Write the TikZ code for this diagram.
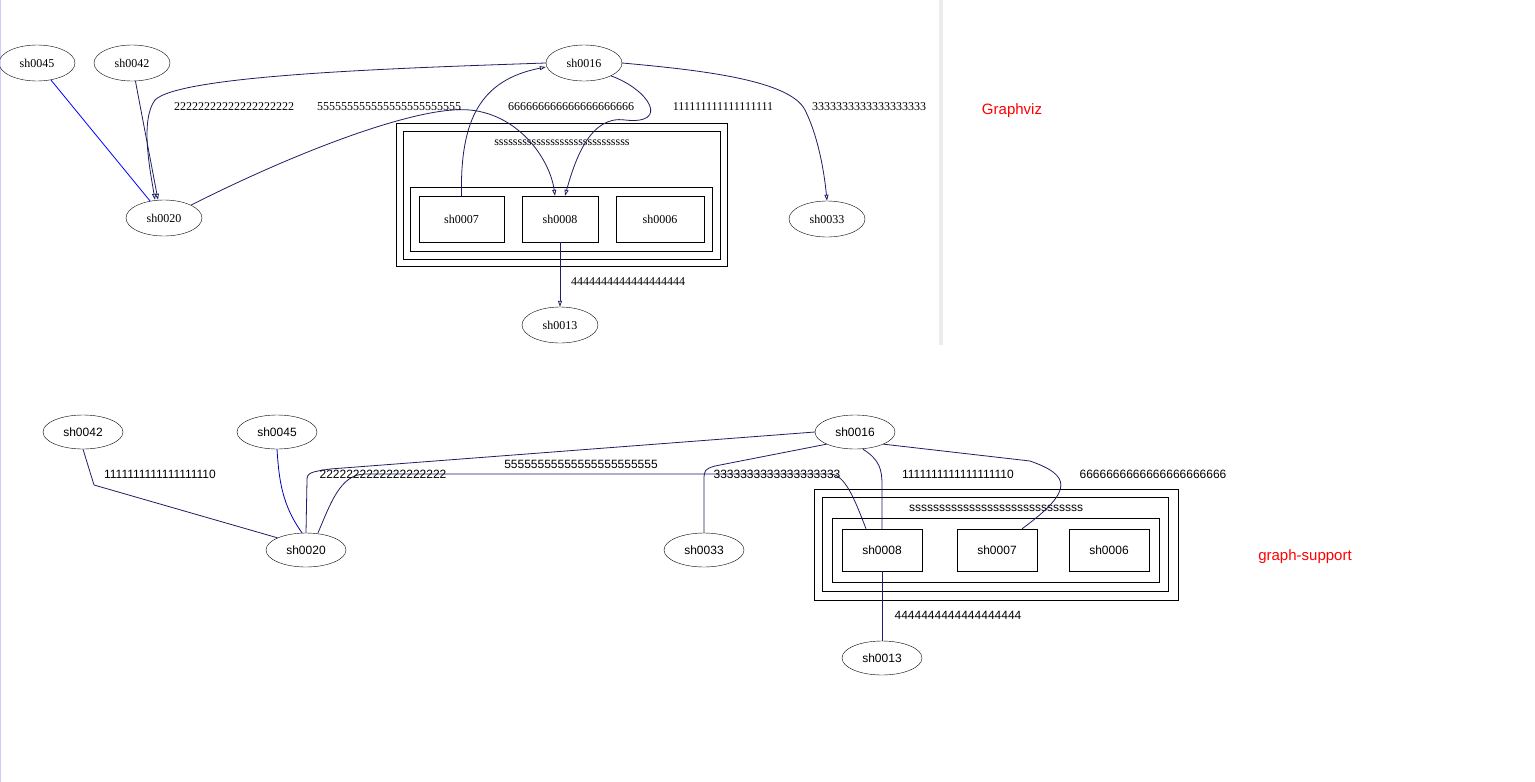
\documentclass[tikz,border=0pt]{standalone}
\usepackage{fontspec}
\setmainfont{Liberation Serif}
\newfontfamily\gsfont{Liberation Sans}
\usetikzlibrary{arrows.meta,shapes.geometric}
\begin{document}
\begin{tikzpicture}[x=1pt,y=-1pt,
 gvn/.style={draw,ellipse,minimum width=76pt,minimum height=36pt,inner sep=0,font=\fontsize{12}{12}\selectfont},
 gsn/.style={draw,ellipse,minimum width=80pt,minimum height=34pt,inner sep=0,font=\gsfont\fontsize{12}{12}\selectfont},
 bx/.style={draw,inner sep=0},
 ed/.style={draw={rgb,255:red,30;green,30;blue,100},line width=0.8pt},
 arr/.style={ed,-{Triangle[open,length=6pt,width=4pt]}},
 lb/.style={font=\fontsize{12}{12}\selectfont,inner sep=1pt},
 glb/.style={font=\gsfont\fontsize{12}{12}\selectfont,inner sep=1pt}]
\useasboundingbox (0,0) rectangle (1535,782);
\fill[white] (0,0) rectangle (1535,782);
\draw[blue!20,line width=1pt] (0.5,0) -- (0.5,782);
\fill[gray!15] (939,0) rectangle (943,345);
% ===== Graphviz =====
\node[text=red,font=\gsfont\fontsize{15}{15}\selectfont] (t1) at (1012,111) {Graphviz};
\node[gvn] (a45) at (37,63) {sh0045};
\node[gvn] (a42) at (132,63) {sh0042};
\node[gvn] (a16) at (584,63) {sh0016};
\node[gvn] (a20) at (164,218) {sh0020};
\node[gvn] (a33) at (827,219) {sh0033};
\node[gvn] (a13) at (560,325) {sh0013};
\node[bx,minimum width=331pt,minimum height=143pt] (ac1) at (561.5,194.5) {};
\node[bx,minimum width=317pt,minimum height=128pt] (ac2) at (561.5,195) {};
\node[bx,minimum width=302pt,minimum height=64pt] (ac3) at (561,219) {};
\node[lb] (als) at (562,143) {sssssssssssssssssssssssssssss};
\node[bx,minimum width=85pt,minimum height=46pt,font=\fontsize{12}{12}\selectfont] (a07) at (461.5,219) {sh0007};
\node[bx,minimum width=76pt,minimum height=46pt,font=\fontsize{12}{12}\selectfont] (a08) at (560,219) {sh0008};
\node[bx,minimum width=88pt,minimum height=46pt,font=\fontsize{12}{12}\selectfont] (a06) at (660,219) {sh0006};
\draw[blue,line width=0.8pt] (a45) -- (a20);
\draw[arr] (a42) -- ([xshift=-6pt]a20.north);
\draw[arr] (a16.west) .. controls (400,68) and (180,75) .. (155,100) .. controls (140,120) and (150,170) .. ([xshift=-9pt]a20.north);
\draw[arr] (a20.north east) .. controls (300,150) and (420,105) .. (470,110) .. controls (520,115) and (550,160) .. ([xshift=-5pt]a08.north);
\draw[arr] (a07.north) .. controls (460,120) and (480,80) .. ([yshift=-4pt]a16.west);
\draw[arr] (a16.south east) .. controls (650,90) and (670,125) .. (625,120) .. controls (590,115) and (575,160) .. ([xshift=5pt]a08.north);
\draw[arr] (a16.east) .. controls (700,70) and (790,80) .. (805,110) .. controls (820,140) and (825,180) .. (a33.north);
\draw[arr] (a08) -- (a13);
\node[lb] (l2) at (234,107) {22222222222222222222};
\node[lb] (l5) at (389,107) {555555555555555555555555};
\node[lb] (l6) at (571,107) {666666666666666666666};
\node[lb] (l1) at (723,107) {111111111111111111};
\node[lb] (l3) at (869,107) {3333333333333333333};
\node[lb] (l4) at (628,282) {4444444444444444444};
% ===== graph-support =====
\node[text=red,font=\gsfont\fontsize{15}{15}\selectfont] (t2) at (1305,557) {graph-support};
\node[gsn] (b42) at (83,432) {sh0042};
\node[gsn] (b45) at (277,432) {sh0045};
\node[gsn] (b16) at (855,432) {sh0016};
\node[gsn] (b20) at (306,550) {sh0020};
\node[gsn] (b33) at (704,550) {sh0033};
\node[gsn] (b13) at (882,658) {sh0013};
\node[bx,minimum width=364pt,minimum height=111pt] (bc1) at (996,544.5) {};
\node[bx,minimum width=346pt,minimum height=94pt] (bc2) at (995,544) {};
\node[bx,minimum width=327pt,minimum height=64pt] (bc3) at (995.5,550) {};
\node[glb] (bls) at (996,508) {sssssssssssssssssssssssssssss};
\node[bx,minimum width=80pt,minimum height=42pt,font=\gsfont\fontsize{12}{12}\selectfont] (b08) at (882,550) {sh0008};
\node[bx,minimum width=80pt,minimum height=42pt,font=\gsfont\fontsize{12}{12}\selectfont] (b07) at (997,550) {sh0007};
\node[bx,minimum width=80pt,minimum height=42pt,font=\gsfont\fontsize{12}{12}\selectfont] (b06) at (1109,550) {sh0006};
\draw[ed] (b42.south) -- (94,485) -- (b20.north west);
\draw[ed,blue!70!black] (b45.south) .. controls (279,480) and (282,505) .. ([xshift=-4pt]b20.north);
\draw[ed] (b16.west) -- (330,469) .. controls (310,472) and (307,473) .. (307,480) -- (b20.north);
\draw[ed] ([xshift=12pt]b20.north) .. controls (330,505) and (340,474) .. (365,474) -- (830,474) .. controls (845,474) and (855,500) .. ([xshift=-16pt]b08.north);
\draw[ed] (b16.south west) -- (715,466) .. controls (705,469) and (704,470) .. (704,480) -- (b33.north);
\draw[ed] ([xshift=8pt]b16.south) .. controls (880,460) and (882,470) .. (882,485) -- (b08.north);
\draw[ed] (b16.south east) -- (1030,461) .. controls (1070,475) and (1075,490) .. ([xshift=25pt]b07.north);
\draw[ed] (b08) -- (b13);
\node[glb] (m1) at (160,474) {1111111111111111110};
\node[glb] (m2) at (383,474) {2222222222222222222};
\node[glb] (m5) at (581,464) {55555555555555555555555};
\node[glb] (m3) at (777,474) {3333333333333333333};
\node[glb] (m1b) at (958,474) {1111111111111111110};
\node[glb] (m6) at (1153,474) {6666666666666666666666};
\node[glb] (m4) at (958,615) {4444444444444444444};
\end{tikzpicture}
\end{document}
